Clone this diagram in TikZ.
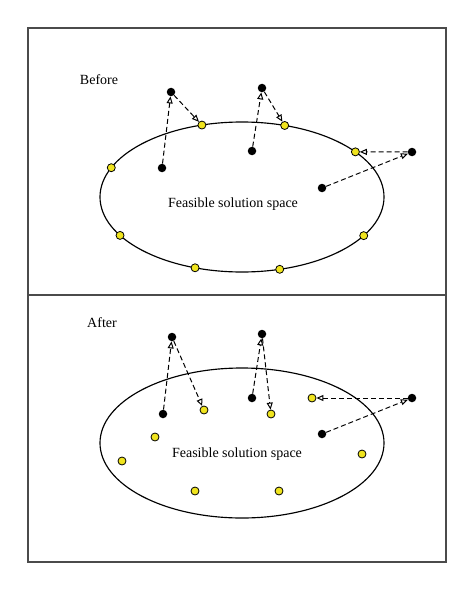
\documentclass[tikz,border=0pt]{standalone}
\usepackage{fontspec}
\setmainfont{Liberation Serif}
\usetikzlibrary{arrows.meta,calc}
\definecolor{dotyellow}{RGB}{240,228,30}
\definecolor{framegray}{RGB}{75,75,75}
\begin{document}
\begin{tikzpicture}[x=1pt,y=-1pt,
  blackdot/.style={circle,fill=black,inner sep=0pt,minimum size=8.5pt},
  yellowdot/.style={circle,fill=dotyellow,draw=black,line width=0.8pt,inner sep=0pt,minimum size=8pt},
  move/.style={dashed,dash pattern=on 5pt off 3pt,line width=1pt,-{Triangle[open,length=7pt,width=6pt]}},
  lbl/.style={font=\fontsize{14}{16}\selectfont,inner sep=0pt},
  region/.style={line width=1.15pt}]
\useasboundingbox (0,0) rectangle (474,591);
% frame
\draw[framegray,line width=1.3pt] (28,28) rectangle (446,562);
\draw[framegray,line width=1.3pt] (28,295) -- (446,295);
% ---------- Before ----------
\node[lbl] (before) at (99,80) {Before};
\coordinate (E1) at (242,197);
\draw[region] (E1) ellipse [x radius=142pt,y radius=75pt];
\node[lbl,anchor=base] (fs1) at (233,207) {Feasible solution space};
\node[yellowdot] (y1) at ($(E1)+(106.4:142pt and 75pt)$) {};
\node[yellowdot] (y2) at ($(E1)+(72.5:142pt and 75pt)$) {};
\node[yellowdot] (y3) at ($(E1)+(37:142pt and 75pt)$) {};
\node[yellowdot] (y4) at ($(E1)+(157:142pt and 75pt)$) {};
\node[yellowdot] (y5) at ($(E1)+(210.8:142pt and 75pt)$) {};
\node[yellowdot] (y6) at ($(E1)+(250.7:142pt and 75pt)$) {};
\node[yellowdot] (y7) at ($(E1)+(285.4:142pt and 75pt)$) {};
\node[yellowdot] (y8) at ($(E1)+(329:142pt and 75pt)$) {};
\node[blackdot] (b1) at (171,92) {};
\node[blackdot] (b2) at (262,88) {};
\node[blackdot] (b3) at (162,168) {};
\node[blackdot] (b4) at (252,151) {};
\node[blackdot] (b5) at (412,152) {};
\node[blackdot] (b6) at (322,188) {};
\draw[move] (b3) -- (b1);
\draw[move] (b1) -- (y1);
\draw[move] (b4) -- (b2);
\draw[move] (b2) -- (y2);
\draw[move] (b5) -- (y3);
\draw[move] (b6) -- (b5);
% ---------- After ----------
\node[lbl] (after) at (102,323) {After};
\coordinate (E2) at (242,443);
\draw[region] (E2) ellipse [x radius=142pt,y radius=75pt];
\node[lbl,anchor=base] (fs2) at (237,457) {Feasible solution space};
\node[yellowdot] (Y1) at (204,410) {};
\node[yellowdot] (Y2) at (271,414) {};
\node[yellowdot] (Y3) at (312,398) {};
\node[yellowdot] (Y4) at (155,437) {};
\node[yellowdot] (Y5) at (122,461) {};
\node[yellowdot] (Y6) at (195,491) {};
\node[yellowdot] (Y7) at (279,491) {};
\node[yellowdot] (Y8) at (362,454) {};
\node[blackdot] (B1) at (172,337) {};
\node[blackdot] (B2) at (262,334) {};
\node[blackdot] (B3) at (163,414) {};
\node[blackdot] (B4) at (252,398) {};
\node[blackdot] (B5) at (412,398) {};
\node[blackdot] (B6) at (322,434) {};
\draw[move] (B3) -- (B1);
\draw[move] (B1) -- (Y1);
\draw[move] (B4) -- (B2);
\draw[move] (B2) -- (Y2);
\draw[move] (B5) -- (Y3);
\draw[move] (B6) -- (B5);
\end{tikzpicture}
\end{document}
